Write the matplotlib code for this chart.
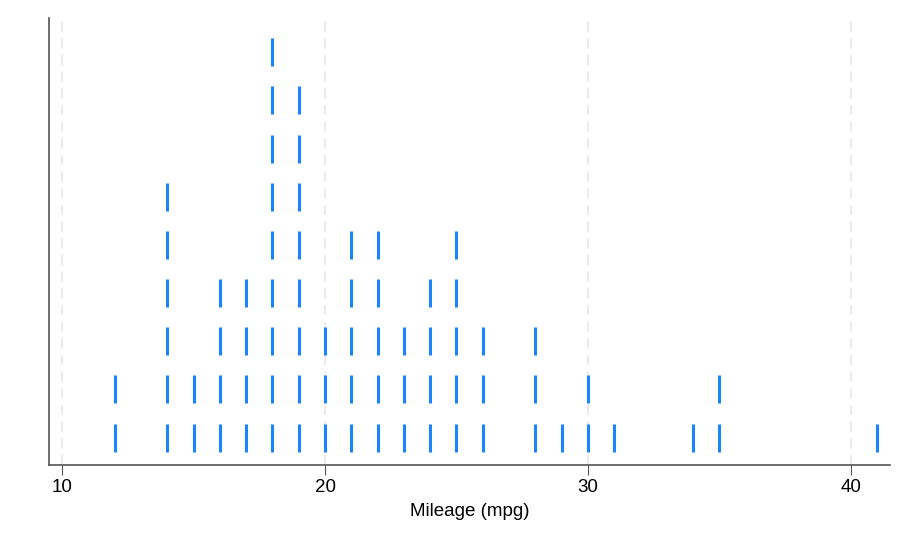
import matplotlib.pyplot as plt

plt.rcParams['font.family'] = ['Liberation Sans', 'DejaVu Sans']

# mileage values and how many cars share each value
mpg_values = [12, 14, 15, 16, 17, 18, 19, 20, 21, 22, 23, 24, 25, 26, 28, 29, 30, 31, 34, 35, 41]
mpg_counts = [2, 6, 2, 4, 4, 9, 8, 3, 5, 5, 3, 4, 5, 3, 3, 1, 2, 1, 1, 2, 1]

xs, ys = [], []
for v, n in zip(mpg_values, mpg_counts):
    for k in range(n):
        xs.append(v)
        ys.append(k + 1)

fig = plt.figure(figsize=(9.1, 5.46), dpi=100)
ax = fig.add_axes([0.0538, 0.1484, 0.924, 0.8186])

ax.plot(xs, ys, linestyle='none', marker='|', markersize=20, markeredgewidth=2.2,
        color='#1a85ff')

ax.set_xlim(9.5, 41.48)
ax.set_ylim(0.43, 9.71)
ax.set_xticks([10, 20, 30, 40])
ax.set_yticks([])
ax.grid(axis='x', color='#e8e8e8', linestyle=(0, (6, 4)), linewidth=1.2)
ax.set_axisbelow(True)

for s in ['top', 'right']:
    ax.spines[s].set_visible(False)
for s in ['left', 'bottom']:
    ax.spines[s].set_color('#555555')
    ax.spines[s].set_linewidth(1.2)

ax.tick_params(axis='x', labelsize=13.5, length=7, color='#555555', pad=3)
ax.set_xlabel('Mileage (mpg)', fontsize=13.5, labelpad=5)

plt.savefig('out.png', dpi=100)
plt.close(fig)
